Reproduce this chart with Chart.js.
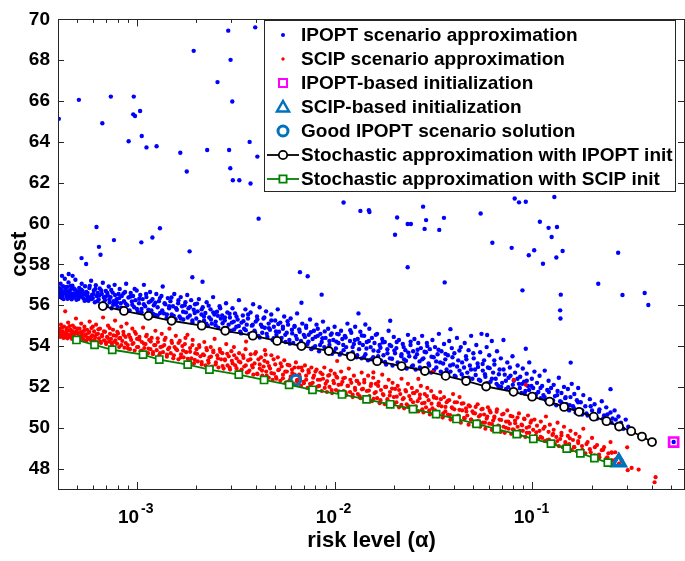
<!DOCTYPE html>
<html><head><meta charset="utf-8">
<script src="https://cdn.jsdelivr.net/npm/chart.js@4.4.0/dist/chart.umd.min.js"></script>
<style>html,body{margin:0;padding:0;background:#fff;overflow:hidden}</style>
</head><body>
<canvas id="c" width="685" height="561" style="display:block;width:685px;height:561px"></canvas>
<script>
// ---------------- DATA ----------------
const xMajorTicks = [0.001, 0.01, 0.1];
const xTickBase = '10';
const xTickExp = ['-3', '-2', '-1'];
const xMinorTicks = [0.0005,0.0006,0.0007,0.0008,0.0009,0.002,0.003,0.004,0.005,0.006,0.007,0.008,0.009,0.02,0.03,0.04,0.05,0.06,0.07,0.08,0.09,0.2,0.3,0.4,0.5];
const yTicks = [48,50,52,54,56,58,60,62,64,66,68,70];

const legendLabels = [
  'IPOPT scenario approximation',
  'SCIP scenario approximation',
  'IPOPT-based initialization',
  'SCIP-based initialization',
  'Good IPOPT scenario solution',
  'Stochastic approximation with IPOPT init',
  'Stochastic approximation with SCIP init'
];

// IPOPT scenario approximation [alpha, cost]
const ipoptScenario = [
[0.000401,56.62],[0.000405,56.85],[0.000408,56.41],[0.000412,57.05],[0.000415,56.55],[0.000418,56.74],
[0.000421,56.48],[0.000424,56.93],[0.000427,56.30],[0.000430,56.66],[0.000433,57.30],[0.000436,56.58],
[0.000439,56.71],[0.000442,56.44],[0.000445,56.89],[0.000449,56.52],[0.000452,57.12],[0.000455,56.36],
[0.000459,56.63],[0.000462,56.47],[0.000466,56.80],[0.000469,56.29],[0.000473,56.96],[0.000476,56.55],
[0.000479,56.58],[0.000483,56.39],[0.000487,56.77],[0.000490,57.25],[0.000494,56.47],[0.000498,56.66],
[0.000502,56.52],[0.000507,56.31],[0.000512,56.85],[0.000517,56.61],[0.000522,56.42],[0.000527,57.05],
[0.000532,56.70],[0.000537,56.35],[0.000542,56.55],[0.000548,56.93],[0.000553,56.26],[0.000558,56.48],
[0.000564,56.60],[0.000570,56.22],[0.000576,56.84],[0.000582,56.40],[0.000588,57.20],[0.000594,56.51],
[0.000600,56.35],[0.000607,56.72],[0.000614,56.15],[0.000621,56.98],[0.000628,56.45],[0.000635,56.60],
[0.000642,56.28],[0.000650,56.82],[0.000658,56.05],[0.000666,56.55],[0.000674,57.10],[0.000682,56.38],
[0.000690,56.25],[0.000698,56.70],[0.000706,55.98],[0.000714,56.48],[0.000722,56.92],[0.000730,56.15],
[0.000738,56.40],[0.000746,55.85],[0.000755,56.62],[0.000764,56.20],[0.000773,57.00],[0.000782,56.05],
[0.000791,56.30],[0.000800,55.92],[0.000810,56.55],[0.000820,56.80],[0.000830,56.10],
[0.000840,56.45],[0.000851,55.80],[0.000862,56.20],[0.000873,56.65],[0.000884,57.05],
[0.000896,56.00],[0.000908,56.38],[0.000920,55.75],[0.000932,56.60],[0.000945,56.18],
[0.000958,56.45],[0.000971,55.90],[0.000985,56.25],[0.000999,56.72],[0.001013,55.68],
[0.001027,56.10],[0.001042,56.50],[0.001057,55.82],[0.001072,56.30],[0.001087,57.00],
[0.001103,55.95],[0.001119,56.40],[0.001135,55.60],[0.001151,56.15],[0.001168,56.65],
[0.001185,55.75],[0.001202,56.30],[0.001220,56.00],[0.001238,55.52],[0.001256,56.55],
[0.001275,55.90],[0.001294,56.20],[0.001313,55.62],[0.001333,56.45],[0.001353,56.92],
[0.001373,55.60],[0.001394,56.05],[0.001415,55.38],[0.001436,56.35],[0.001458,55.85],
[0.001480,56.20],[0.001502,55.55],[0.001525,55.95],[0.001548,56.55],[0.001571,55.32],
[0.001595,55.78],[0.001619,56.10],[0.001644,55.45],[0.001669,56.40],[0.001694,55.95],
[0.001720,55.30],[0.001746,56.00],[0.001773,55.65],[0.001800,56.50],[0.001827,55.85],
[0.001855,55.50],[0.001883,56.25],[0.001912,55.15],[0.001941,55.78],[0.001970,56.05],
[0.002000,55.35],[0.002030,55.70],[0.002061,56.30],[0.002092,55.05],[0.002124,55.55],
[0.002156,55.90],[0.002189,55.25],[0.002222,55.62],[0.002256,56.15],[0.002290,54.98],
[0.002325,55.40],[0.002360,55.80],[0.002396,55.10],[0.002432,56.40],[0.002469,55.55],
[0.002506,55.20],[0.002544,55.68],[0.002583,54.90],[0.002622,55.95],[0.002662,55.35],
[0.002702,55.50],[0.002743,54.85],[0.002785,55.25],[0.002827,56.10],[0.002870,55.65],
[0.002913,55.05],[0.002957,55.40],[0.003002,54.75],[0.003047,55.85],[0.003093,55.20],
[0.003140,55.60],[0.003188,54.95],[0.003236,55.30],[0.003285,56.25],[0.003335,54.70],
[0.003386,55.15],[0.003437,55.50],[0.003489,54.85],[0.003542,55.80],[0.003596,55.05],
[0.003650,55.35],[0.003705,54.60],[0.003761,55.65],[0.003818,55.00],[0.003876,56.05],
[0.003935,54.75],[0.003995,55.20],[0.004055,55.45],[0.004116,54.50],[0.004179,55.90],
[0.004242,55.05],[0.004306,54.65],[0.004371,55.35],[0.004437,54.90],[0.004505,55.70],
[0.004573,54.45],[0.004642,55.10],[0.004713,54.80],[0.004784,55.55],[0.004857,54.30],
[0.004930,54.95],[0.005005,55.25],[0.005081,54.55],[0.005158,55.80],[0.005236,54.70],
[0.005315,55.15],[0.005396,54.40],[0.005478,54.85],[0.005561,55.45],[0.005645,54.20],
[0.005730,54.65],[0.005817,55.05],[0.005905,54.30],[0.005995,55.35],[0.006086,54.80],
[0.006178,54.15],[0.006272,54.95],[0.006367,54.50],[0.006464,55.60],[0.006562,54.05],
[0.006661,54.70],[0.006762,54.25],[0.006865,55.10],[0.006969,53.95],[0.007075,54.45],
[0.007182,54.90],[0.007291,54.10],[0.007402,54.55],[0.007514,55.30],[0.007628,53.85],
[0.007744,54.35],[0.007861,54.75],[0.007980,54.00],[0.008101,55.05],[0.008224,54.50],
[0.008349,53.75],[0.008475,54.60],[0.008604,54.20],[0.008734,55.20],[0.008867,53.95],
[0.009001,54.40],[0.009138,53.70],[0.009276,54.85],[0.009417,54.05],[0.009560,54.55],
[0.009705,53.62],[0.009852,54.30],[0.010000,54.95],[0.010150,53.88],[0.010300,54.60],
[0.010460,54.15],[0.010620,53.58],[0.010780,54.75],[0.010940,54.35],[0.011100,53.80],
[0.011270,54.50],[0.011440,53.95],[0.011610,55.10],[0.011790,53.50],[0.011960,54.25],
[0.012140,54.65],[0.012330,53.70],[0.012510,54.10],[0.012700,54.95],[0.012900,53.45],
[0.013090,54.35],[0.013290,53.85],[0.013490,54.70],[0.013690,53.40],[0.013900,54.05],
[0.014110,54.50],[0.014320,53.60],[0.014540,54.20],[0.014760,53.30],[0.014980,54.85],
[0.015210,53.95],[0.015440,54.40],[0.015670,53.45],[0.015910,54.15],[0.016150,53.20],
[0.016390,54.60],[0.016640,53.75],[0.016890,54.05],[0.017140,53.30],[0.017400,54.35],
[0.017660,53.55],[0.017930,54.20],[0.018200,53.10],[0.018480,53.85],[0.018750,54.75],
[0.019040,53.40],[0.019330,54.00],[0.019620,53.05],[0.019910,54.45],[0.020210,53.65],
[0.020520,53.90],[0.020830,53.20],[0.021140,54.30],[0.021460,52.95],[0.021780,53.60],
[0.022110,54.10],[0.022450,53.35],[0.022790,53.80],[0.023130,52.90],[0.023480,54.55],
[0.023830,53.50],[0.024190,54.05],[0.024560,53.00],[0.024930,53.75],[0.025310,54.35],
[0.025690,52.85],[0.026080,53.60],[0.026470,54.15],[0.026870,53.25],[0.027280,53.90],
[0.027690,54.50],[0.028110,53.40],[0.028530,52.75],[0.028960,53.70],[0.029400,54.00],
[0.029840,53.15],[0.030290,53.85],[0.030750,52.70],[0.031220,54.30],[0.031690,53.45],
[0.032170,53.95],[0.032660,52.95],[0.033150,53.60],[0.033650,54.60],[0.034160,53.20],
[0.034680,53.75],[0.035200,52.60],[0.035730,54.10],[0.036270,53.35],[0.036820,52.85],
[0.037380,53.55],[0.037940,54.25],[0.038520,52.75],[0.039100,53.90],[0.039690,53.10],
[0.040290,53.65],[0.040900,52.50],[0.041520,54.40],[0.042150,53.30],[0.042790,52.80],
[0.043440,53.95],[0.044100,53.20],[0.044770,52.45],[0.045440,54.15],[0.046130,53.50],
[0.046830,52.70],[0.047540,53.80],[0.048260,53.05],[0.048990,54.50],[0.049730,52.40],
[0.050480,53.40],[0.051250,52.85],[0.052020,54.05],[0.052810,53.15],
[0.053610,52.35],[0.054420,53.70],[0.055250,54.60],[0.056090,52.80],
[0.056940,53.30],[0.057800,52.50],[0.058670,53.95],[0.059560,52.95],
[0.060460,53.55],[0.061380,52.25],[0.062310,54.25],[0.063250,52.70],
[0.064210,53.10],[0.065180,52.40],[0.066170,53.75],[0.067170,52.05],
[0.068190,52.85],[0.069220,53.40],[0.070270,52.20],[0.071330,54.30],
[0.072410,52.60],[0.073510,51.90],[0.074620,53.20],[0.075750,52.45],
[0.076890,52.95],[0.078060,51.85],[0.079240,53.50],[0.080440,52.30],
[0.081660,52.70],[0.082890,51.75],[0.084150,53.05],[0.085420,52.15],
[0.086710,52.50],[0.088030,51.70],[0.089360,52.90],[0.090710,52.25],
[0.092080,51.80],[0.093470,52.65],[0.094890,52.05],[0.096320,53.20],
[0.097780,51.60],[0.099260,52.40],[0.100800,51.95],[0.102300,52.75],
[0.103800,51.50],[0.105400,52.20],[0.107000,51.75],[0.108600,52.55],
[0.110200,51.45],[0.111900,52.05],[0.113600,51.60],[0.115300,52.80],[0.117000,51.35],
[0.118800,51.85],[0.120600,52.30],[0.122400,51.40],[0.124200,51.95],[0.126100,51.20],
[0.128000,52.10],[0.129900,51.55],[0.131900,51.10],[0.133900,51.80],[0.135900,52.45],
[0.138000,51.30],[0.140100,51.70],[0.142200,50.95],[0.144300,52.00],[0.146500,51.45],
[0.148700,51.15],[0.151000,51.90],[0.153200,50.85],[0.155600,51.50],[0.157900,52.15],
[0.160300,51.05],[0.162700,51.65],[0.165200,50.75],[0.167700,51.35],
[0.170200,51.95],[0.172800,50.80],[0.175400,51.25],[0.178000,50.65],[0.180700,51.60],
[0.185000,51.05],[0.190000,50.60],[0.195000,51.40],[0.200000,50.85],
[0.206000,51.15],[0.212000,50.45],[0.218000,50.90],[0.224000,51.30],
[0.230000,50.60],[0.236000,51.00],[0.242000,50.30],[0.248000,50.75],
[0.254000,50.45],[0.260000,50.85],[0.266000,50.15],[0.272000,50.55],
[0.280000,50.25],[0.288000,49.95],[0.296000,50.40],[0.305000,50.05],[0.315000,49.80],
// second pass (denser band)
[0.000403,56.50],[0.000411,56.78],[0.000419,56.35],[0.000426,56.62],[0.000434,56.88],[0.000441,56.58],[0.000447,56.32],
[0.000457,56.70],[0.000464,56.95],[0.000471,56.45],[0.000481,56.82],[0.000488,56.53],[0.000496,56.27],[0.000505,56.68],
[0.000515,56.44],[0.000525,56.76],[0.000535,56.55],[0.000545,56.22],[0.000556,56.65],[0.000567,56.40],[0.000579,56.95],
[0.000591,56.30],[0.000604,56.55],[0.000618,56.80],[0.000632,56.20],[0.000646,56.48],[0.000662,56.72],[0.000678,56.10],
[0.000694,56.42],[0.000710,56.60],[0.000727,56.28],[0.000743,56.75],[0.000760,56.02],[0.000777,56.50],[0.000795,56.15],
[0.000815,56.35],[0.000835,55.88],[0.000857,56.58],[0.000879,56.08],[0.000902,55.72],[0.000926,56.42],[0.000950,56.02],
[0.000976,56.80],[0.001002,55.82],[0.001030,56.32],[0.001058,55.65],[0.001086,56.05],[0.001115,56.55],[0.001145,55.78],
[0.001176,56.20],[0.001208,55.58],[0.001241,56.12],[0.001275,55.50],[0.001310,56.35],[0.001345,55.75],[0.001382,56.10],
[0.001420,55.55],[0.001459,55.95],[0.001498,56.38],[0.001539,55.48],[0.001581,55.85],[0.001625,56.25],[0.001669,55.35],
[0.001715,55.68],[0.001762,56.15],[0.001810,55.40],[0.001860,55.92],[0.001911,55.25],[0.001963,55.62],[0.002017,56.08],
[0.002072,55.18],[0.002129,55.80],[0.002187,55.45],[0.002247,55.10],[0.002309,55.98],[0.002372,55.30],[0.002437,55.65],
[0.002503,55.02],[0.002572,55.48],[0.002642,55.85],[0.002715,55.12],[0.002789,55.40],[0.002865,54.88],[0.002944,55.58],
[0.003024,55.15],[0.003107,54.82],[0.003192,55.45],[0.003280,54.98],[0.003370,54.62],[0.003462,55.22],[0.003557,54.78],
[0.003654,55.55],[0.003754,54.55],[0.003857,55.05],[0.003963,54.68],[0.004071,55.30],[0.004183,54.42],[0.004297,54.95],
[0.004415,55.40],[0.004536,54.60],[0.004660,54.88],[0.004788,55.25],[0.004919,54.38],[0.005054,54.72],[0.005192,55.08],
[0.005334,54.28],[0.005480,54.95],[0.005630,54.55],[0.005785,55.22],[0.005943,54.12],[0.006106,54.62],[0.006273,54.98],
[0.006445,54.35],[0.006622,54.82],[0.006803,54.08],[0.006990,54.55],[0.007181,55.00],[0.007378,54.22],[0.007580,54.68],
[0.007788,53.92],[0.008001,54.45],[0.008220,54.85],[0.008446,54.05],[0.008677,54.38],[0.008915,54.72],[0.009159,53.82],
[0.009410,54.25],[0.009668,54.62],[0.009932,53.72],
[0.01020,54.22],[0.01048,54.58],[0.01077,53.65],[0.01106,54.05],[0.01137,54.42],[0.01168,53.62],[0.01200,54.78],
[0.01233,53.95],[0.01266,54.30],[0.01301,53.55],[0.01337,54.15],[0.01373,54.52],[0.01411,53.48],[0.01449,53.88],
[0.01489,54.25],[0.01530,53.35],[0.01572,53.78],[0.01615,54.55],[0.01659,53.50],[0.01705,53.92],[0.01751,54.18],
[0.01799,53.22],[0.01849,53.65],[0.01899,54.05],[0.01951,53.38],[0.02005,53.78],[0.02060,54.20],[0.02116,53.12],
[0.02174,53.50],[0.02234,53.95],[0.02295,53.28],[0.02358,53.68],[0.02422,54.22],[0.02489,53.05],[0.02557,53.45],
[0.02627,53.82],[0.02699,52.95],[0.02773,53.35],[0.02849,53.72],[0.02927,54.15],
[0.03007,53.05],[0.03089,53.48],[0.03174,52.82],[0.03261,53.25],[0.03350,53.82],[0.03442,52.75],[0.03536,53.15],
[0.03633,53.62],[0.03733,52.68],[0.03835,53.05],[0.03940,53.45],[0.04048,52.55],[0.04159,53.00],[0.04273,53.78],
[0.04390,52.62],[0.04510,52.95],[0.04634,53.35],[0.04761,52.45],[0.04891,52.85],[0.05025,53.65],[0.05163,52.58],
[0.05304,52.98],[0.05450,52.30],[0.05599,53.12],[0.05753,52.62],[0.05910,52.18],[0.06072,52.92],[0.06239,52.40],
[0.06410,53.30],[0.06585,52.15],[0.06766,52.62],[0.06951,52.00],[0.07142,52.85],[0.07338,52.30],[0.07539,51.98],
[0.07745,52.55],[0.07957,52.10],[0.08176,51.82],[0.08400,52.40],[0.08630,51.95],[0.08866,52.15],[0.09109,51.68],
[0.09359,52.30],[0.09615,51.85],[0.09879,52.05],
[0.1045,51.65],[0.1098,51.95],[0.1152,51.50],[0.1210,51.75],[0.1270,51.35],[0.1334,51.60],[0.1400,51.25],
[0.1470,51.50],[0.1543,51.10],[0.1620,50.95],[0.1700,51.25],[0.1785,50.85],[0.1874,50.70],[0.1968,51.05],
[0.2066,50.55],[0.2169,50.78],[0.2277,50.45],[0.2391,50.65],[0.2510,50.25],[0.2635,50.40],[0.2767,50.10],
// outliers
[0.000404,65.13],[0.00051,66.06],[0.00074,66.22],[0.00067,64.91],[0.000966,66.22],[0.00096,65.35],[0.00098,65.27],
[0.00104,65.51],[0.00091,64.03],[0.00106,64.29],[0.00112,63.73],[0.00126,63.79],[0.00166,63.47],[0.00179,62.55],
[0.00194,68.46],[0.00227,63.60],[0.00256,66.93],[0.0029,69.45],[0.00298,68.02],[0.00304,65.98],[0.00293,63.60],
[0.00297,62.71],[0.00306,62.12],[0.0033,62.12],[0.00376,61.96],[0.00372,64.00],[0.00397,69.61],[0.00407,63.28],
[0.00413,60.24],[0.0111,61.03],[0.000626,59.83],[0.000644,58.86],[0.000656,58.47],[0.000767,59.19],[0.001055,59.08],
[0.0012,59.32],[0.00131,59.77],[0.000526,58.31],[0.000555,58.02],[0.00185,58.64],[0.00668,57.62],[0.00731,57.42],
[0.00191,57.37],[0.00215,57.15],[0.000419,57.44],[0.000453,57.53],[0.000474,57.44],
[0.183,69.74],[0.0135,60.62],[0.0149,60.65],[0.0150,60.57],[0.0207,60.30],[0.0202,59.45],[0.0234,59.98],[0.0243,59.98],
[0.0234,57.86],[0.028,60.83],[0.029,60.17],[0.0285,59.74],[0.0338,59.69],[0.0357,60.28],[0.036,57.12],[0.0547,60.49],
[0.0627,59.06],[0.0785,58.81],[0.0813,61.23],[0.0855,61.04],[0.0925,61.07],[0.102,58.69],[0.0958,58.45],[0.109,60.09],
[0.113,58.03],[0.1206,59.79],[0.133,59.83],[0.125,59.34],[0.129,61.30],[0.132,58.34],[0.142,58.66],[0.271,58.57],
[0.089,56.73],[0.139,56.52],[0.138,55.75],[0.1385,55.35],[0.215,57.05],[0.285,56.50],[0.369,56.60],[0.385,56.01],
[0.0925,53.87],[0.156,53.19],[0.0132,55.60],[0.0191,55.24],[0.059,54.54],[0.0086,56.52],[0.0068,56.12],[0.0143,55.06],
[0.0385,54.83],[0.248,51.89],[0.517,49.30]
];

// SCIP scenario approximation [alpha, cost]
const scipScenario = [
[0.000402,54.62],[0.000406,54.85],[0.000410,54.45],[0.000414,55.05],[0.000417,54.70],[0.000420,54.55],
[0.000423,54.72],[0.000426,54.40],[0.000429,54.95],[0.000432,54.58],[0.000435,55.70],[0.000438,54.48],
[0.000441,54.65],[0.000444,54.88],[0.000447,54.38],[0.000450,55.15],[0.000454,54.52],[0.000457,54.75],
[0.000460,54.45],[0.000464,54.80],[0.000468,54.60],[0.000471,54.35],[0.000475,55.00],[0.000478,54.68],
[0.000481,54.55],[0.000485,54.90],[0.000489,54.40],[0.000493,55.35],[0.000497,54.72],[0.000500,54.30],
[0.000504,54.62],[0.000509,54.45],[0.000514,54.85],[0.000519,54.35],[0.000524,55.10],[0.000529,54.55],
[0.000534,54.70],[0.000539,54.32],[0.000544,54.95],[0.000550,54.50],[0.000555,54.25],[0.000561,54.80],
[0.000566,54.42],[0.000572,54.65],[0.000578,55.20],[0.000584,54.30],[0.000590,54.88],[0.000596,54.52],
[0.000602,54.25],[0.000609,54.72],[0.000616,54.45],[0.000623,55.05],[0.000630,54.18],[0.000637,54.60],
[0.000644,54.38],[0.000652,54.85],[0.000660,54.15],[0.000668,54.55],[0.000676,55.40],[0.000684,54.28],
[0.000692,54.70],[0.000700,54.10],[0.000708,54.45],[0.000716,55.00],[0.000725,54.22],[0.000733,54.60],
[0.000741,54.35],[0.000750,54.05],[0.000759,54.80],[0.000768,54.20],[0.000777,55.25],[0.000786,54.50],
[0.000795,54.12],[0.000805,54.62],[0.000815,53.95],[0.000825,54.40],[0.000835,54.95],
[0.000845,54.25],[0.000856,54.70],[0.000867,53.92],[0.000878,54.45],[0.000889,55.10],
[0.000901,54.05],[0.000913,54.55],[0.000925,53.85],[0.000937,54.30],[0.000950,54.85],
[0.000963,54.15],[0.000976,53.78],[0.000990,54.60],[0.001004,54.35],[0.001018,53.95],
[0.001032,54.45],[0.001047,53.75],[0.001062,54.20],[0.001077,54.90],[0.001092,53.90],
[0.001108,54.10],[0.001124,54.55],[0.001140,53.65],[0.001156,54.30],[0.001173,53.85],
[0.001190,54.40],[0.001207,53.60],[0.001225,54.05],[0.001243,54.75],[0.001261,53.80],
[0.001280,54.20],[0.001299,53.55],[0.001318,53.95],[0.001338,54.60],[0.001358,53.70],
[0.001378,54.05],[0.001399,54.40],[0.001420,53.48],[0.001441,53.85],[0.001463,54.85],
[0.001485,53.65],[0.001507,54.15],[0.001530,53.40],[0.001553,53.95],[0.001576,54.50],
[0.001600,53.80],[0.001625,53.35],[0.001650,54.25],[0.001675,53.60],[0.001700,54.00],
[0.001725,53.45],[0.001751,54.10],[0.001778,53.70],[0.001805,54.55],[0.001832,53.25],
[0.001860,53.90],[0.001888,53.40],[0.001917,54.30],[0.001946,53.15],[0.001975,53.65],
[0.002005,53.85],[0.002036,53.25],[0.002067,54.05],[0.002098,53.50],[0.002130,53.10],
[0.002162,53.60],[0.002195,54.20],[0.002228,53.05],[0.002262,53.80],[0.002296,53.30],
[0.002331,53.45],[0.002366,53.95],[0.002402,53.00],[0.002438,53.70],[0.002475,54.35],
[0.002512,53.20],[0.002550,53.55],[0.002589,52.95],[0.002628,53.85],[0.002668,53.35],
[0.002708,53.65],[0.002749,52.90],[0.002791,53.30],[0.002833,54.10],[0.002876,53.05],
[0.002919,53.50],[0.002963,52.85],[0.003008,53.75],[0.003053,53.15],[0.003099,53.95],
[0.003146,53.05],[0.003194,53.40],[0.003242,52.75],[0.003291,53.65],[0.003341,53.20],
[0.003392,52.85],[0.003443,53.55],[0.003495,53.00],[0.003548,53.85],[0.003602,52.70],
[0.003656,53.30],[0.003711,52.80],[0.003767,53.60],[0.003824,53.05],[0.003882,52.60],
[0.003941,53.15],[0.004001,53.70],[0.004061,52.65],[0.004122,53.35],[0.004185,52.90],
[0.004248,53.45],[0.004312,52.55],[0.004377,53.00],[0.004443,53.80],[0.004511,52.75],
[0.004579,53.20],[0.004648,52.45],[0.004719,52.90],[0.004790,53.55],[0.004863,52.35],
[0.004936,52.65],[0.005011,53.10],[0.005087,52.40],[0.005164,53.45],[0.005242,52.85],
[0.005321,52.30],[0.005402,53.00],[0.005484,52.60],[0.005567,53.30],[0.005651,52.20],
[0.005736,52.75],[0.005823,52.25],[0.005911,53.05],[0.006001,52.50],[0.006092,52.85],
[0.006184,52.15],[0.006278,52.60],[0.006373,53.20],[0.006470,52.35],[0.006568,52.95],
[0.006667,52.50],[0.006768,52.05],[0.006871,52.80],[0.006975,52.25],[0.007081,53.05],
[0.007188,52.35],[0.007297,51.95],[0.007408,52.70],[0.007520,52.15],[0.007634,52.95],
[0.007750,52.20],[0.007867,52.55],[0.007986,51.90],[0.008107,52.85],[0.008230,52.35],
[0.008355,52.05],[0.008481,52.70],[0.008610,51.80],[0.008740,52.40],[0.008873,52.95],
[0.009007,52.15],[0.009144,51.75],[0.009283,52.55],[0.009424,52.00],[0.009567,52.80],
[0.009712,51.70],[0.009859,52.30],[0.010010,52.65],[0.010160,51.85],[0.010310,52.45],
[0.010470,52.10],[0.010630,51.65],[0.010790,52.75],[0.010950,52.25],[0.011110,51.80],
[0.011280,52.45],[0.011450,51.60],[0.011620,52.05],[0.011800,52.90],[0.011970,51.75],
[0.012150,52.20],[0.012340,51.50],[0.012520,52.55],[0.012710,51.85],[0.012910,52.30],
[0.013100,51.65],[0.013300,52.15],[0.013500,51.45],[0.013700,52.70],[0.013910,51.90],
[0.014120,52.35],[0.014330,51.40],[0.014550,51.80],[0.014770,52.55],[0.014990,51.55],
[0.015220,52.05],[0.015450,51.30],[0.015680,52.45],[0.015920,51.70],[0.016160,52.15],
[0.016400,51.45],[0.016650,52.25],[0.016900,51.20],[0.017150,51.85],[0.017410,52.60],
[0.017670,51.60],[0.017940,51.15],[0.018210,52.00],[0.018490,51.40],[0.018760,52.35],
[0.019050,51.75],[0.019340,51.05],[0.019630,52.20],[0.019920,51.50],[0.020220,51.90],
[0.020530,51.25],[0.020840,52.05],[0.021150,51.00],[0.021470,51.65],[0.021790,52.40],
[0.022120,51.40],[0.022460,50.95],[0.022800,51.85],[0.023140,51.15],[0.023490,52.15],
[0.023840,51.55],[0.024200,50.85],[0.024570,51.95],[0.024940,51.25],[0.025320,51.70],
[0.025700,51.05],[0.026090,51.80],[0.026480,50.80],[0.026880,51.45],[0.027290,52.05],
[0.027700,51.20],[0.028120,50.75],[0.028540,51.65],[0.028970,51.00],[0.029410,51.95],
[0.029850,51.35],[0.030300,50.65],[0.030760,51.80],[0.031230,50.95],[0.031700,51.55],
[0.032180,50.85],[0.032670,51.45],[0.033160,50.55],[0.033660,51.20],[0.034170,51.75],
[0.034690,51.05],[0.035210,50.50],[0.035740,51.50],[0.036280,50.80],[0.036830,51.25],
[0.037390,50.65],[0.037950,51.35],[0.038530,50.40],[0.039110,51.00],[0.039700,51.65],
[0.040300,50.90],[0.040910,50.35],[0.041530,51.25],[0.042160,50.60],[0.042800,51.50],
[0.043450,50.25],[0.044110,50.85],[0.044780,51.20],[0.045450,50.45],[0.046140,50.95],
[0.046840,50.60],[0.047550,50.15],[0.048270,51.05],[0.049000,50.40],[0.049740,50.80],
[0.050490,50.10],[0.051260,50.70],[0.052030,50.30],[0.052820,51.15],
[0.053620,50.55],[0.054430,50.05],[0.055260,50.90],[0.056100,50.25],
[0.056950,50.65],[0.057810,49.95],[0.058680,50.45],[0.059570,51.00],
[0.060470,50.20],[0.061390,50.75],[0.062320,49.90],[0.063260,50.35],
[0.064220,50.55],[0.065190,49.85],[0.066180,50.90],[0.067180,50.10],
[0.068200,50.40],[0.069230,49.80],[0.070280,50.65],[0.071340,50.05],
[0.072420,49.75],[0.073520,50.30],[0.074630,50.85],[0.075760,49.95],
[0.076900,50.20],[0.078070,49.70],[0.079250,50.55],[0.080450,49.90],
[0.081670,50.35],[0.082900,49.65],[0.084160,50.05],[0.085430,50.70],
[0.086720,49.60],[0.088040,50.15],[0.089370,49.85],[0.090720,50.45],
[0.092090,49.55],[0.093480,50.00],[0.094900,50.60],[0.096330,49.75],
[0.097790,50.25],[0.099270,49.50],[0.100800,49.90],[0.102300,50.40],
[0.103800,49.60],[0.105400,50.10],[0.107000,49.45],[0.108600,49.85],
[0.110200,50.30],[0.111900,49.50],[0.113600,49.95],[0.115300,49.35],[0.117000,50.55],
[0.118800,49.40],[0.120600,49.80],[0.122400,50.15],[0.124200,49.25],[0.126100,49.65],
[0.128000,49.90],[0.129900,49.20],[0.131900,49.55],[0.133900,50.25],[0.135900,49.10],
[0.138000,49.45],[0.140100,49.75],[0.142200,49.05],[0.144300,50.05],[0.146500,49.30],
[0.148700,48.95],[0.151000,49.60],[0.153200,49.20],[0.155600,49.85],[0.157900,48.90],
[0.160300,49.40],[0.162700,49.05],[0.165200,49.70],[0.167700,48.85],
[0.170200,49.25],[0.172800,49.55],[0.175400,48.80],[0.178000,49.10],[0.180700,49.95],
[0.185000,48.75],[0.190000,49.30],[0.195000,48.95],[0.200000,49.50],
[0.206000,48.65],[0.212000,49.15],[0.218000,48.55],[0.224000,48.90],
[0.230000,49.05],[0.236000,48.50],[0.242000,48.75],[0.248000,49.30],
[0.254000,48.40],[0.262000,48.80],
// second pass (denser band)
[0.000404,54.75],[0.000412,54.52],[0.000419,54.90],[0.000427,54.62],[0.000434,54.42],[0.000442,54.80],[0.000449,54.55],
[0.000458,54.98],[0.000466,54.50],[0.000474,54.72],[0.000483,54.38],[0.000491,54.62],[0.000502,54.85],[0.000512,54.48],
[0.000522,54.68],[0.000532,54.40],[0.000543,54.78],[0.000553,54.58],[0.000565,54.35],[0.000576,54.70],[0.000588,54.45],
[0.000600,54.95],[0.000613,54.30],[0.000626,54.58],[0.000640,54.82],[0.000654,54.22],[0.000668,54.48],[0.000683,54.72],
[0.000698,54.18],[0.000714,54.40],[0.000730,54.88],[0.000746,54.15],[0.000763,54.52],[0.000780,54.28],[0.000797,54.70],
[0.000816,54.38],[0.000836,54.05],[0.000858,54.55],[0.000880,54.15],[0.000903,53.88],[0.000927,54.42],[0.000951,54.10],
[0.000977,54.70],[0.001003,53.95],[0.001031,54.32],[0.001059,53.78],[0.001087,54.12],[0.001116,54.48],[0.001146,53.88],
[0.001177,54.22],[0.001209,53.70],[0.001242,54.05],[0.001276,54.38],[0.001311,53.65],[0.001346,53.98],[0.001383,54.30],
[0.001421,53.58],[0.001460,53.92],[0.001499,54.25],[0.001540,53.55],[0.001582,53.85],[0.001626,54.15],[0.001670,53.45],
[0.001716,53.78],[0.001763,54.40],[0.001811,53.38],[0.001861,53.72],[0.001912,54.05],[0.001964,53.32],[0.002018,53.62],
[0.002073,53.95],[0.002130,53.22],[0.002188,53.55],[0.002248,53.90],[0.002310,53.18],[0.002373,53.48],[0.002438,53.78],
[0.002504,53.10],[0.002573,53.40],[0.002643,53.72],[0.002716,53.02],[0.002790,53.35],[0.002866,53.62],[0.002945,52.95],
[0.003025,53.28],[0.003108,53.55],[0.003193,52.92],[0.003281,53.25],[0.003371,52.80],[0.003463,53.42],[0.003558,53.05],
[0.003655,52.72],[0.003755,53.35],[0.003858,52.95],[0.003964,53.62],[0.004072,52.62],[0.004184,53.10],[0.004298,52.80],
[0.004416,53.28],[0.004537,52.55],[0.004661,53.02],[0.004789,52.68],[0.004920,53.35],[0.005055,52.48],[0.005193,52.82],
[0.005335,53.15],[0.005481,52.42],[0.005631,52.75],[0.005786,53.08],[0.005944,52.35],[0.006107,52.68],[0.006274,52.95],
[0.006446,52.28],[0.006623,52.60],[0.006804,52.95],[0.006991,52.18],[0.007182,52.55],[0.007379,52.82],[0.007581,52.10],
[0.007789,52.45],[0.008002,52.75],[0.008221,52.02],[0.008447,52.35],[0.008678,52.62],[0.008916,51.95],[0.009160,52.28],
[0.009411,52.58],[0.009669,51.85],[0.009933,52.18],
[0.01021,52.50],[0.01049,51.78],[0.01078,52.12],[0.01107,52.42],[0.01138,51.72],[0.01169,52.05],[0.01201,52.35],
[0.01234,51.62],[0.01267,51.95],[0.01302,52.28],[0.01338,51.55],[0.01374,51.88],[0.01412,52.22],[0.01450,51.50],
[0.01490,51.82],[0.01531,52.15],[0.01573,51.42],[0.01616,51.75],[0.01660,52.05],[0.01706,51.35],[0.01752,51.65],
[0.01800,52.00],[0.01850,51.28],[0.01900,51.58],[0.01952,51.92],[0.02006,51.20],[0.02061,51.52],[0.02117,51.85],
[0.02175,51.12],[0.02235,51.45],[0.02296,51.78],[0.02359,51.05],[0.02423,51.38],[0.02490,51.70],[0.02558,50.98],
[0.02628,51.30],[0.02700,51.62],[0.02774,50.90],[0.02850,51.22],[0.02928,51.55],
[0.03008,50.85],[0.03090,51.18],[0.03175,51.48],[0.03262,50.78],[0.03351,51.10],[0.03443,51.40],[0.03537,50.70],
[0.03634,51.02],[0.03734,51.32],[0.03836,50.62],[0.03941,50.95],[0.04049,51.25],[0.04160,50.55],[0.04274,50.88],
[0.04391,51.18],[0.04511,50.48],[0.04635,50.80],[0.04762,51.10],[0.04892,50.40],[0.05026,50.72],[0.05164,51.02],
[0.05305,50.32],[0.05451,50.62],[0.05600,50.92],[0.05754,50.25],[0.05911,50.55],[0.06073,50.85],[0.06240,50.18],
[0.06411,50.48],[0.06586,50.78],[0.06767,50.08],[0.06952,50.38],[0.07143,50.68],[0.07339,50.00],[0.07540,50.30],
[0.07746,50.58],[0.07958,49.92],[0.08177,50.22],[0.08401,50.50],[0.08631,49.85],[0.08867,50.12],[0.09110,50.42],
[0.09360,49.75],[0.09616,50.05],[0.09880,50.35],
[0.1046,49.78],[0.1099,49.55],[0.1153,50.05],[0.1211,49.42],[0.1271,49.70],[0.1335,49.35],[0.1401,49.62],
[0.1471,49.20],[0.1544,49.48],[0.1621,49.05],[0.1701,49.35],[0.1786,48.92],[0.1875,49.20],[0.1969,48.80],
[0.2067,49.05],[0.2170,48.68],[0.2278,48.92],[0.2392,48.55],[0.2511,48.80],[0.2636,48.45],
// outliers
[0.252,48.77],[0.282,48.40],[0.301,49.04],[0.303,47.92],[0.317,48.03],[0.344,47.95],[0.419,47.58],[0.414,47.33],[0.274,48.25],
[0.00357,54.22],[0.00448,53.58],[0.0103,53.27],[0.0157,52.71],[0.0265,52.39],[0.0313,52.74],[0.0804,52.34],[0.0925,52.10]
];

const stochIpoptAlpha = [6.74e-4,8.62e-4,1.145e-3,1.50e-3,2.13e-3,2.80e-3,3.86e-3,5.12e-3,6.80e-3,9.35e-3,1.21e-2,1.64e-2,2.18e-2,2.86e-2,3.64e-2,4.62e-2,5.83e-2,8.02e-2,9.96e-2,0.122,0.1445,0.172,0.204,0.2366,0.274,0.3155,0.3575,0.402];
const stochIpoptCost  = [55.96,55.72,55.48,55.24,55.00,54.75,54.51,54.25,54.00,53.76,53.50,53.26,53.02,52.78,52.54,52.29,52.02,51.76,51.52,51.28,51.02,50.78,50.54,50.32,50.06,49.83,49.57,49.30];
const stochScipAlpha  = [4.96e-4,6.12e-4,7.52e-4,1.076e-3,1.30e-3,1.81e-3,2.33e-3,3.28e-3,4.40e-3,5.89e-3,7.73e-3,1.09e-2,1.45e-2,1.91e-2,2.49e-2,3.26e-2,4.13e-2,5.22e-2,6.59e-2,8.32e-2,0.101,0.124,0.149,0.1746,0.2056,0.2404];
const stochScipCost   = [54.30,54.06,53.82,53.58,53.34,53.09,52.85,52.60,52.34,52.10,51.86,51.63,51.39,51.15,50.91,50.67,50.43,50.19,49.93,49.69,49.46,49.22,48.98,48.75,48.51,48.29];

const ipoptInit = [[0.517, 49.30]];
const scipInit = [[0.273, 48.32]];
const goodIpopt = [[0.00637, 52.34]];

// ---------------- STYLE ----------------
const FONT = '"Liberation Sans", Arial, Helvetica, sans-serif';
const C_BLUE = '#0000FF', C_RED = '#FF0000', C_MAG = '#FF00FF', C_MBLUE = '#0072BD', C_GREEN = '#008000';

const toPts = (arr) => arr.map(p => ({x: p[0], y: p[1]}));
const zipPts = (xs, ys) => xs.map((x, i) => ({x: x, y: ys[i]}));

const framePlugin = {
  id: 'frame',
  afterDraw(chart) {
    const ctx = chart.ctx, a = chart.chartArea, sx = chart.scales.x, sy = chart.scales.y;
    ctx.save();
    ctx.strokeStyle = '#262626'; ctx.lineWidth = 1;
    ctx.strokeRect(Math.round(a.left) + 0.5, Math.round(a.top) + 0.5, Math.round(a.right - a.left) - 1, Math.round(a.bottom - a.top));
    ctx.beginPath();
    const tick = (v, len) => {
      const px = Math.round(sx.getPixelForValue(v)) + 0.5;
      ctx.moveTo(px, a.bottom); ctx.lineTo(px, a.bottom - len);
      ctx.moveTo(px, a.top); ctx.lineTo(px, a.top + len);
    };
    xMajorTicks.forEach(v => tick(v, 7));
    xMinorTicks.forEach(v => tick(v, 3.5));
    yTicks.forEach(v => {
      const py = Math.round(sy.getPixelForValue(v)) + 0.5;
      ctx.moveTo(a.left, py); ctx.lineTo(a.left + 6, py);
      ctx.moveTo(a.right, py); ctx.lineTo(a.right - 7, py);
    });
    ctx.stroke();
    ctx.fillStyle = '#000'; ctx.textAlign = 'left'; ctx.textBaseline = 'alphabetic';
    xMajorTicks.forEach((v, i) => {
      const px = sx.getPixelForValue(v);
      ctx.font = 'bold 19px ' + FONT;
      const w1 = ctx.measureText(xTickBase).width;
      ctx.font = 'bold 14px ' + FONT;
      const w2 = ctx.measureText(xTickExp[i]).width;
      const x0 = px - (w1 + w2 + 4) / 2;
      ctx.font = 'bold 19px ' + FONT;
      ctx.fillText(xTickBase, x0, 523);
      ctx.font = 'bold 14px ' + FONT;
      ctx.fillText(xTickExp[i], x0 + w1 + 2, 513);
    });
    ctx.restore();
  }
};

const legendPlugin = {
  id: 'boxLegend',
  afterDraw(chart) {
    const ctx = chart.ctx;
    const x0 = 264.5, y0 = 20.5, x1 = 675.5, y1 = 191.5;
    ctx.save();
    ctx.fillStyle = '#fff'; ctx.fillRect(x0, y0, x1 - x0, y1 - y0);
    ctx.strokeStyle = '#262626'; ctx.lineWidth = 1; ctx.strokeRect(x0, y0, x1 - x0, y1 - y0);
    const mx = 283, rowY = i => 35 + i * 24;
    ctx.fillStyle = C_BLUE; ctx.beginPath(); ctx.arc(mx, rowY(0), 2, 0, Math.PI * 2); ctx.fill();
    ctx.fillStyle = C_RED; ctx.beginPath(); ctx.arc(mx, rowY(1), 1.7, 0, Math.PI * 2); ctx.fill();
    ctx.strokeStyle = C_MAG; ctx.lineWidth = 2; ctx.strokeRect(mx - 4, rowY(2) - 4, 8, 8);
    ctx.strokeStyle = C_MBLUE; ctx.lineWidth = 2.5; ctx.lineJoin = 'miter';
    ctx.beginPath(); ctx.moveTo(mx, rowY(3) - 6); ctx.lineTo(mx + 6, rowY(3) + 4.5); ctx.lineTo(mx - 6, rowY(3) + 4.5); ctx.closePath(); ctx.stroke();
    ctx.lineWidth = 3; ctx.beginPath(); ctx.arc(mx, rowY(4), 5, 0, Math.PI * 2); ctx.stroke();
    [[5, '#000', 'circle'], [6, C_GREEN, 'rect']].forEach(([i, col, shape]) => {
      const y = rowY(i);
      ctx.strokeStyle = col; ctx.lineWidth = 1.8;
      ctx.beginPath(); ctx.moveTo(267, y); ctx.lineTo(299, y); ctx.stroke();
      ctx.fillStyle = '#fff';
      ctx.beginPath();
      if (shape === 'circle') ctx.arc(mx, y, 4.2, 0, Math.PI * 2); else ctx.rect(mx - 3.6, y - 3.6, 7.2, 7.2);
      ctx.fill(); ctx.stroke();
    });
    ctx.fillStyle = '#000'; ctx.font = 'bold 19px ' + FONT; ctx.textAlign = 'left'; ctx.textBaseline = 'middle';
    legendLabels.forEach((t, i) => ctx.fillText(t, 301, rowY(i) + 1));
    ctx.restore();
  }
};

new Chart(document.getElementById('c'), {
  type: 'scatter',
  data: {
    datasets: [
      { label: legendLabels[0], data: toPts(ipoptScenario), order: 7, pointRadius: 2.2, pointBorderWidth: 0, pointBackgroundColor: C_BLUE, backgroundColor: C_BLUE, showLine: false },
      { label: legendLabels[1], data: toPts(scipScenario), order: 6, pointRadius: 2.1, pointBorderWidth: 0, pointBackgroundColor: C_RED, backgroundColor: C_RED, showLine: false },
      { label: legendLabels[2], data: toPts(ipoptInit), order: 5, clip: false, pointStyle: 'rect', pointRadius: 6.4, pointBorderWidth: 2.7, pointBorderColor: C_MAG, pointBackgroundColor: 'rgba(0,0,0,0)', showLine: false },
      { label: legendLabels[3], data: toPts(scipInit), order: 4, clip: false, pointStyle: 'triangle', pointRadius: 7, pointBorderWidth: 3.8, pointBorderColor: C_MBLUE, pointBackgroundColor: 'rgba(0,0,0,0)', showLine: false },
      { label: legendLabels[4], data: toPts(goodIpopt), order: 3, pointStyle: 'circle', pointRadius: 4.8, pointBorderWidth: 3, pointBorderColor: C_MBLUE, pointBackgroundColor: 'rgba(0,0,0,0)', showLine: false },
      { label: legendLabels[5], data: zipPts(stochIpoptAlpha, stochIpoptCost), order: 2, showLine: true, borderColor: '#000', borderWidth: 1.8, pointStyle: 'circle', pointRadius: 4, pointBorderWidth: 1.8, pointBorderColor: '#000', pointBackgroundColor: '#fff' },
      { label: legendLabels[6], data: zipPts(stochScipAlpha, stochScipCost), order: 1, showLine: true, borderColor: C_GREEN, borderWidth: 1.8, pointStyle: 'rect', pointRadius: 5, pointBorderWidth: 1.7, pointBorderColor: C_GREEN, pointBackgroundColor: '#fff' }
    ]
  },
  options: {
    responsive: false,
    animation: false,
    events: [],
    layout: { autoPadding: false, padding: { top: 12, right: 0, left: 0, bottom: 0 } },
    plugins: { legend: { display: false }, tooltip: { enabled: false } },
    scales: {
      x: {
        type: 'logarithmic', min: 0.0004, max: 0.59,
        grid: { display: false, drawTicks: false }, border: { display: false },
        ticks: { display: false },
        afterBuildTicks: s => { s.ticks = xMajorTicks.map(v => ({ value: v })); },
        afterFit: s => { s.height = 72; },
        title: { display: true, text: 'risk level (α)', color: '#000', font: { family: FONT, size: 22, weight: 'bold' }, padding: { top: 0, bottom: 7 } }
      },
      y: {
        min: 47, max: 70,
        grid: { display: false, drawTicks: false }, border: { display: false },
        ticks: { color: '#000', padding: 8, font: { family: FONT, size: 19, weight: 'bold' } },
        afterBuildTicks: s => { s.ticks = yTicks.map(v => ({ value: v })); },
        afterFit: s => { s.width = 58; },
        title: { display: true, text: 'cost', color: '#000', font: { family: FONT, size: 22, weight: 'bold' }, padding: { top: 7, bottom: 0 } }
      }
    }
  },
  plugins: [framePlugin, legendPlugin]
});
</script>
</body></html>
